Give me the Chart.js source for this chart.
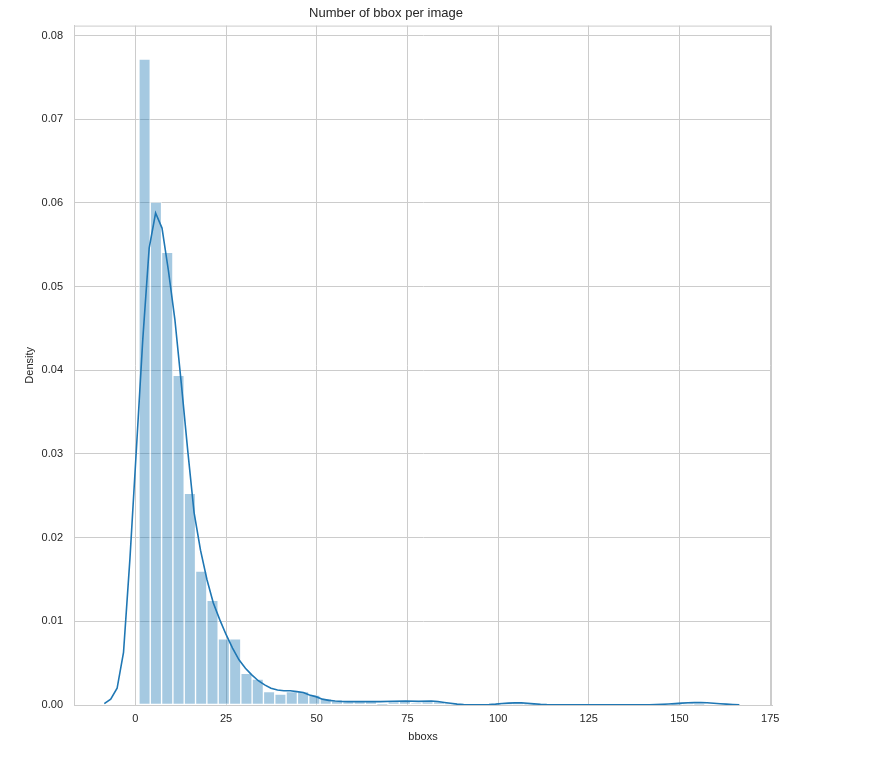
<!DOCTYPE html>
<html lang="en">

<head>
    <meta charset="UTF-8">
    <title>Number of bbox per image</title>
    <script src="https://cdn.jsdelivr.net/npm/chart.js@4.4.1/dist/chart.umd.min.js"></script>
    <style>
        html, body {
            margin: 0;
            padding: 0;
            background: #fff;
        }

        #wrap {
            width: 869px;
            height: 757px;
        }
    </style>
</head>

<body>
    <div id="wrap"><canvas id="chart"></canvas></div>

    <script>
        // histogram bins (centre of each bin, width ~3.12)
        const binCenters = [2.56, 5.68, 8.80, 11.92, 15.04, 18.16, 21.28, 24.40, 27.52, 30.64,
            33.76, 36.88, 40.00, 43.12, 46.24, 49.36, 52.48, 55.60, 58.72, 61.84,
            64.96, 68.08, 71.20, 74.32, 77.44, 80.56, 83.68, 86.80, 89.92, 93.04,
            96.16, 99.28, 102.40, 105.52, 108.64, 111.76, 114.88, 118.00, 121.12, 124.24,
            127.36, 130.48, 133.60, 136.72, 139.84, 142.96, 146.08, 149.20, 152.32, 155.44];
        const binDensity = [0.0772, 0.0601, 0.0541, 0.0394, 0.0253, 0.0160, 0.0125, 0.0079, 0.0079, 0.0038,
            0.0031, 0.0016, 0.0013, 0.0016, 0.0016, 0.0012, 0.0008, 0.0005, 0.0004, 0.0004,
            0.0004, 0.0001, 0.0004, 0.0005, 0.0003, 0.0004, 0.0004, 0.0002, 0.0001, 0,
            0.0001, 0.0001, 0.0002, 0.0002, 0.0001, 0, 0, 0, 0, 0,
            0, 0, 0, 0, 0, 0, 0, 0.0001, 0.0002, 0.0001];

        // kde curve
        const kdeX = [-8.55, -6.78, -5.02, -3.25, -1.48, 0.29, 2.06, 3.82, 5.59, 7.36,
            9.13, 10.90, 12.66, 14.43, 16.20, 17.97, 19.74, 21.50, 23.27, 25.04,
            26.80, 28.58, 30.35, 32.10, 33.90, 35.65, 37.40, 39.20, 40.95, 42.70,
            44.50, 46.30, 48.00, 49.80, 51.55, 53.30, 55.10, 56.90, 58.60, 62.20,
            67.50, 71.00, 74.50, 78.10, 81.60, 83.40, 85.20, 86.90, 88.70, 90.50,
            94.00, 97.50, 99.30, 101.10, 102.80, 104.60, 106.40, 108.10, 109.90, 111.70,
            113.40, 125.00, 141.70, 143.50, 145.30, 147.00, 148.80, 150.60, 152.30, 154.10,
            155.90, 157.60, 159.40, 161.20, 162.90, 164.70, 166.50];
        const kdeY = [0.00016, 0.0007, 0.0020, 0.0063, 0.0175, 0.0305, 0.0437, 0.0546, 0.0588, 0.0570,
            0.0519, 0.0461, 0.0385, 0.0305, 0.0230, 0.0185, 0.0150, 0.0122, 0.0102, 0.0084,
            0.0068, 0.0054, 0.0044, 0.0036, 0.0029, 0.0024, 0.0020, 0.0018, 0.0017, 0.0017,
            0.0016, 0.0015, 0.0012, 0.0010, 0.0007, 0.00055, 0.00048, 0.00043, 0.0004, 0.0004,
            0.0004, 0.00045, 0.00047, 0.00043, 0.00047, 0.00042, 0.0003, 0.0002, 0.0001, 0.00005,
            0.00003, 0.00005, 0.0001, 0.00017, 0.00022, 0.00025, 0.00025, 0.0002, 0.00014, 0.00008,
            0.00004, 0.00002, 0.00003, 0.00005, 0.00008, 0.00012, 0.00017, 0.00022, 0.00026, 0.00028,
            0.00028, 0.00026, 0.00021, 0.00015, 0.0001, 0.00006, 0.00003];

        const xTicks = [0, 25, 50, 75, 100, 125, 150, 175];
        const yTicks = [0, 0.01, 0.02, 0.03, 0.04, 0.05, 0.06, 0.07, 0.08];

        const gridColor = '#cccccc';
        const textColor = '#262626';
        const fontFamily = '"Liberation Sans", Arial, sans-serif';

        // matplotlib draws the whole axes frame, chart.js only left/bottom
        const frame = {
            id: 'frame',
            afterDatasetsDraw(chart) {
                const a = chart.chartArea;
                const ctx = chart.ctx;
                ctx.save();
                ctx.strokeStyle = gridColor;
                ctx.lineWidth = 1;
                ctx.strokeRect(a.left + 0.5, a.top + 0.5, a.right - a.left - 1, a.bottom - a.top);
                ctx.restore();
            }
        };

        const ctx = document.getElementById('chart').getContext('2d');
        new Chart(ctx, {
            data: {
                datasets: [{
                    type: 'line',
                    order: 0,
                    data: kdeX.map((x, i) => ({ x: x, y: kdeY[i] })),
                    borderColor: '#1f77b4',
                    borderWidth: 1.6,
                    pointRadius: 0,
                    tension: 0,
                    fill: false
                }, {
                    type: 'bar',
                    order: 1,
                    data: binCenters.map((x, i) => ({ x: x, y: binDensity[i] })),
                    backgroundColor: 'rgba(31,119,180,0.4)',
                    borderColor: 'rgba(255,255,255,0.55)',
                    borderWidth: 1,
                    borderSkipped: false,
                    barPercentage: 1,
                    categoryPercentage: 1
                }]
            },
            options: {
                responsive: true,
                maintainAspectRatio: false,
                animation: false,
                layout: {
                    padding: { left: 0, right: 97, top: 0, bottom: 0 }
                },
                plugins: {
                    legend: { display: false },
                    tooltip: { enabled: false },
                    title: {
                        display: true,
                        text: 'Number of bbox per image',
                        color: textColor,
                        font: { family: fontFamily, size: 13, weight: 'normal' },
                        padding: { top: 6, bottom: 4 }
                    }
                },
                scales: {
                    x: {
                        type: 'linear',
                        offset: false,
                        min: -16.9,
                        max: 175.5,
                        afterBuildTicks: (scale) => {
                            scale.ticks = xTicks.map(v => ({ value: v }));
                        },
                        afterFit: (scale) => {
                            scale.height = 52;
                        },
                        grid: { color: gridColor, drawTicks: false, offset: false },
                        border: { display: true, color: gridColor },
                        ticks: {
                            color: textColor,
                            padding: 7,
                            font: { family: fontFamily, size: 11 }
                        },
                        title: {
                            display: true,
                            text: 'bboxs',
                            color: textColor,
                            font: { family: fontFamily, size: 11 },
                            padding: { top: 0, bottom: 13 }
                        }
                    },
                    y: {
                        type: 'linear',
                        min: 0,
                        max: 0.0812,
                        afterBuildTicks: (scale) => {
                            scale.ticks = yTicks.map(v => ({ value: v }));
                        },
                        afterFit: (scale) => {
                            scale.width = 74;
                        },
                        grid: { color: gridColor, drawTicks: false },
                        border: { display: true, color: gridColor },
                        ticks: {
                            color: textColor,
                            padding: 11,
                            font: { family: fontFamily, size: 11 },
                            callback: (v) => v.toFixed(2)
                        },
                        title: {
                            display: true,
                            text: 'Density',
                            color: textColor,
                            font: { family: fontFamily, size: 11 },
                            padding: { top: 23, bottom: 0 }
                        }
                    }
                }
            },
            plugins: [frame]
        });
    </script>
</body>

</html>
